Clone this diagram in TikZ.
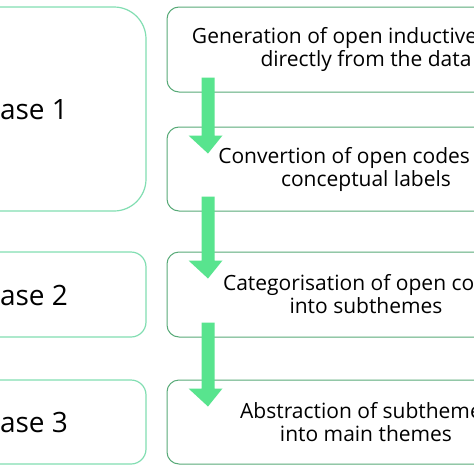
\documentclass[tikz,border=0pt]{standalone}
\usepackage{fontspec}
\setmainfont{Open Sans}
\usetikzlibrary{calc}
\definecolor{leftgreen}{RGB}{130,222,178}
\definecolor{rightgreen}{RGB}{88,170,120}
\definecolor{arrowgreen}{RGB}{88,228,142}
\tikzset{
  phasebox/.style={draw=leftgreen,line width=1.2pt,fill=white,minimum width=258pt,
    font=\fontsize{28}{30}\selectfont,text=black,inner sep=0pt},
  stepbox/.style={draw=rightgreen,line width=1pt,fill=white,rounded corners=12pt,
    minimum width=398pt,minimum height=85pt,align=center,
    font=\fontsize{21}{23}\selectfont,text=black,inner sep=0pt},
  flowarrow/.style={fill=arrowgreen}
}
\begin{document}
\begin{tikzpicture}[x=1pt,y=-1pt]
\useasboundingbox (0,0) rectangle (474,474);
\begin{scope}
\clip (0,0) rectangle (474,474);
\node[phasebox,rounded corners=32pt,minimum height=204pt] (p1) at (17,109) {Phase 1};
\node[phasebox,rounded corners=15pt,minimum height=85pt] (p2) at (17,294.5) {Phase 2};
\node[phasebox,rounded corners=15pt,minimum height=84pt] (p3) at (17,422) {Phase 3};
\node[stepbox] (r1) at (366,49.5) {Generation of open inductive codes\\directly from the data};
\node[stepbox,minimum height=84pt] (r2) at (366,169) {Convertion of open codes into\\conceptual labels};
\node[stepbox] (r3) at (366,294.5) {Categorisation of open codes\\into subthemes};
\node[stepbox,minimum height=84pt] (r4) at (366,422) {Abstraction of subthemes\\into main themes};
\foreach \a/\b in {r1/r2,r2/r3,r3/r4}{
  \fill[flowarrow]
    ($(\a.south west)+(35,-15)$) -- ($(\a.south west)+(48,-15)$)
    -- ($(\b.north west)+(48,9)$) -- ($(\b.north west)+(56,9)$)
    -- ($(\b.north west)+(41.5,27)$) -- ($(\b.north west)+(22,9)$)
    -- ($(\b.north west)+(35,9)$) -- cycle;
}
\end{scope}
\end{tikzpicture}
\end{document}
